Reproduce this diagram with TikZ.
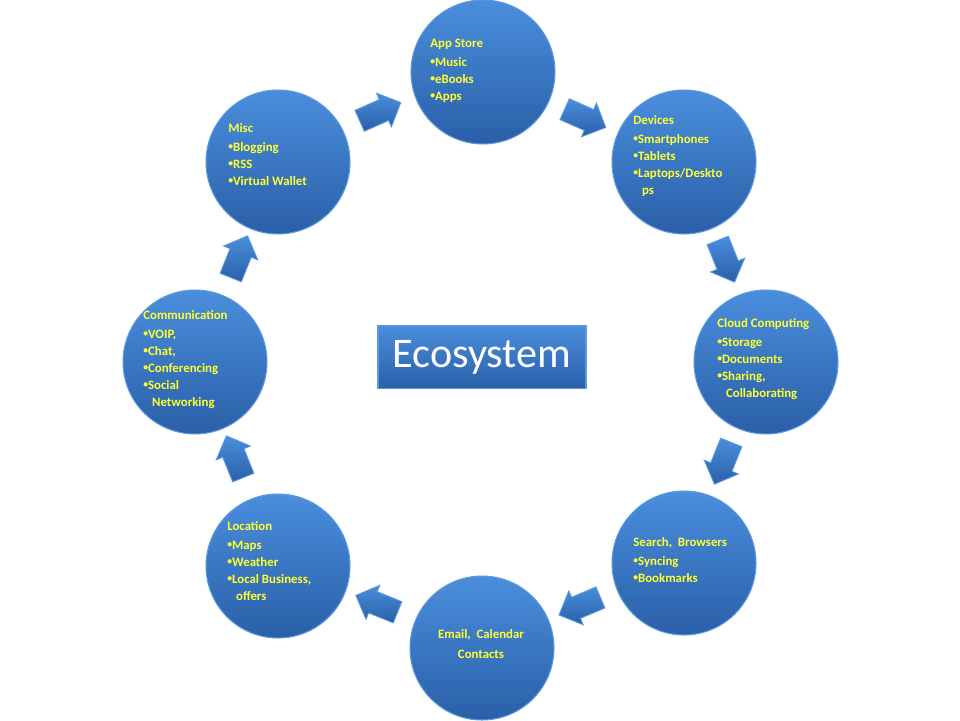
\documentclass[tikz,border=0pt]{standalone}
\usepackage{fontspec}
\setmainfont{Carlito}
\usetikzlibrary{shapes.arrows}
\definecolor{ctop}{HTML}{4A8EDC}
\definecolor{cbot}{HTML}{2A5FA8}
\definecolor{cedge}{HTML}{5C9AE0}
\definecolor{txt}{HTML}{FFFF33}
\newcommand{\bul}{\raisebox{0.3ex}{\scalebox{0.75}{•}}}
\tikzset{
 bub/.style={circle,minimum size=2.88cm,inner sep=0,top color=ctop,bottom color=cbot,draw=cedge,line width=0.6pt},
 lab/.style={anchor=north west,align=left,text=txt,font=\bfseries\fontsize{7.3}{9.7}\selectfont,inner sep=0},
 arr/.style={single arrow,single arrow head extend=0.14cm,minimum height=0.9cm,inner sep=0.22cm,top color=ctop,bottom color=cbot,draw=cedge,line width=0.5pt}
}
\begin{document}
\begin{tikzpicture}[x=0.02cm,y=-0.02cm]
\useasboundingbox (0,0) rectangle (960,720);
\node[bub] (app) at (483,72) {};
\node[bub] (dev) at (684,162) {};
\node[bub] (cloud) at (766,362) {};
\node[bub] (search) at (684,563) {};
\node[bub] (email) at (482,648) {};
\node[bub] (loc) at (278,566) {};
\node[bub] (comm) at (195,362) {};
\node[bub] (misc) at (278,162) {};
\node[lab] (tapp) at (430,39) {App Store\\[1pt]\bul Music\\\bul eBooks\\\bul Apps};
\node[lab] (tdev) at (633,115) {Devices\\[1pt]\bul Smartphones\\\bul Tablets\\\bul Laptops/Deskto\\\hspace*{5pt}ps};
\node[lab] (tcloud) at (717,318) {Cloud Computing\\[1pt]\bul Storage\\\bul Documents\\\bul Sharing,\\\hspace*{5pt}Collaborating};
\node[lab] (tsearch) at (633,537) {Search,\ \ Browsers\\[1pt]\bul Syncing\\\bul Bookmarks};
\node[lab,anchor=north,align=center] (temail) at (481,629) {Email,\ \ Calendar\\[2pt]Contacts};
\node[lab] (tloc) at (227,521) {Location\\[1pt]\bul Maps\\\bul Weather\\\bul Local Business,\\\hspace*{5pt}offers};
\node[lab] (tcomm) at (143,310) {Communication\\[1pt]\bul VOIP,\\\bul Chat,\\\bul Conferencing\\\bul Social\\\hspace*{5pt}Networking};
\node[lab] (tmisc) at (228,123) {Misc\\[1pt]\bul Blogging\\\bul RSS\\\bul Virtual Wallet};
\node[arr,rotate=-24] (a1) at (580,116) {};
\node[arr,rotate=-68] (a2) at (724,256) {};
\node[arr,rotate=-112] (a3) at (725,458) {};
\node[arr,rotate=-157] (a4) at (585,604) {};
\node[arr,rotate=158] (a5) at (382,606) {};
\node[arr,rotate=112] (a6) at (237,462) {};
\node[arr,rotate=68] (a7) at (237,262) {};
\node[arr,rotate=24] (a8) at (375,114) {};
\node[minimum width=4.16cm,minimum height=1.26cm,top color=ctop,bottom color=cbot,draw=cedge,line width=0.6pt,text=white,font=\fontsize{24}{28}\selectfont] (eco) at (482,357) {Ecosystem};
\end{tikzpicture}
\end{document}
